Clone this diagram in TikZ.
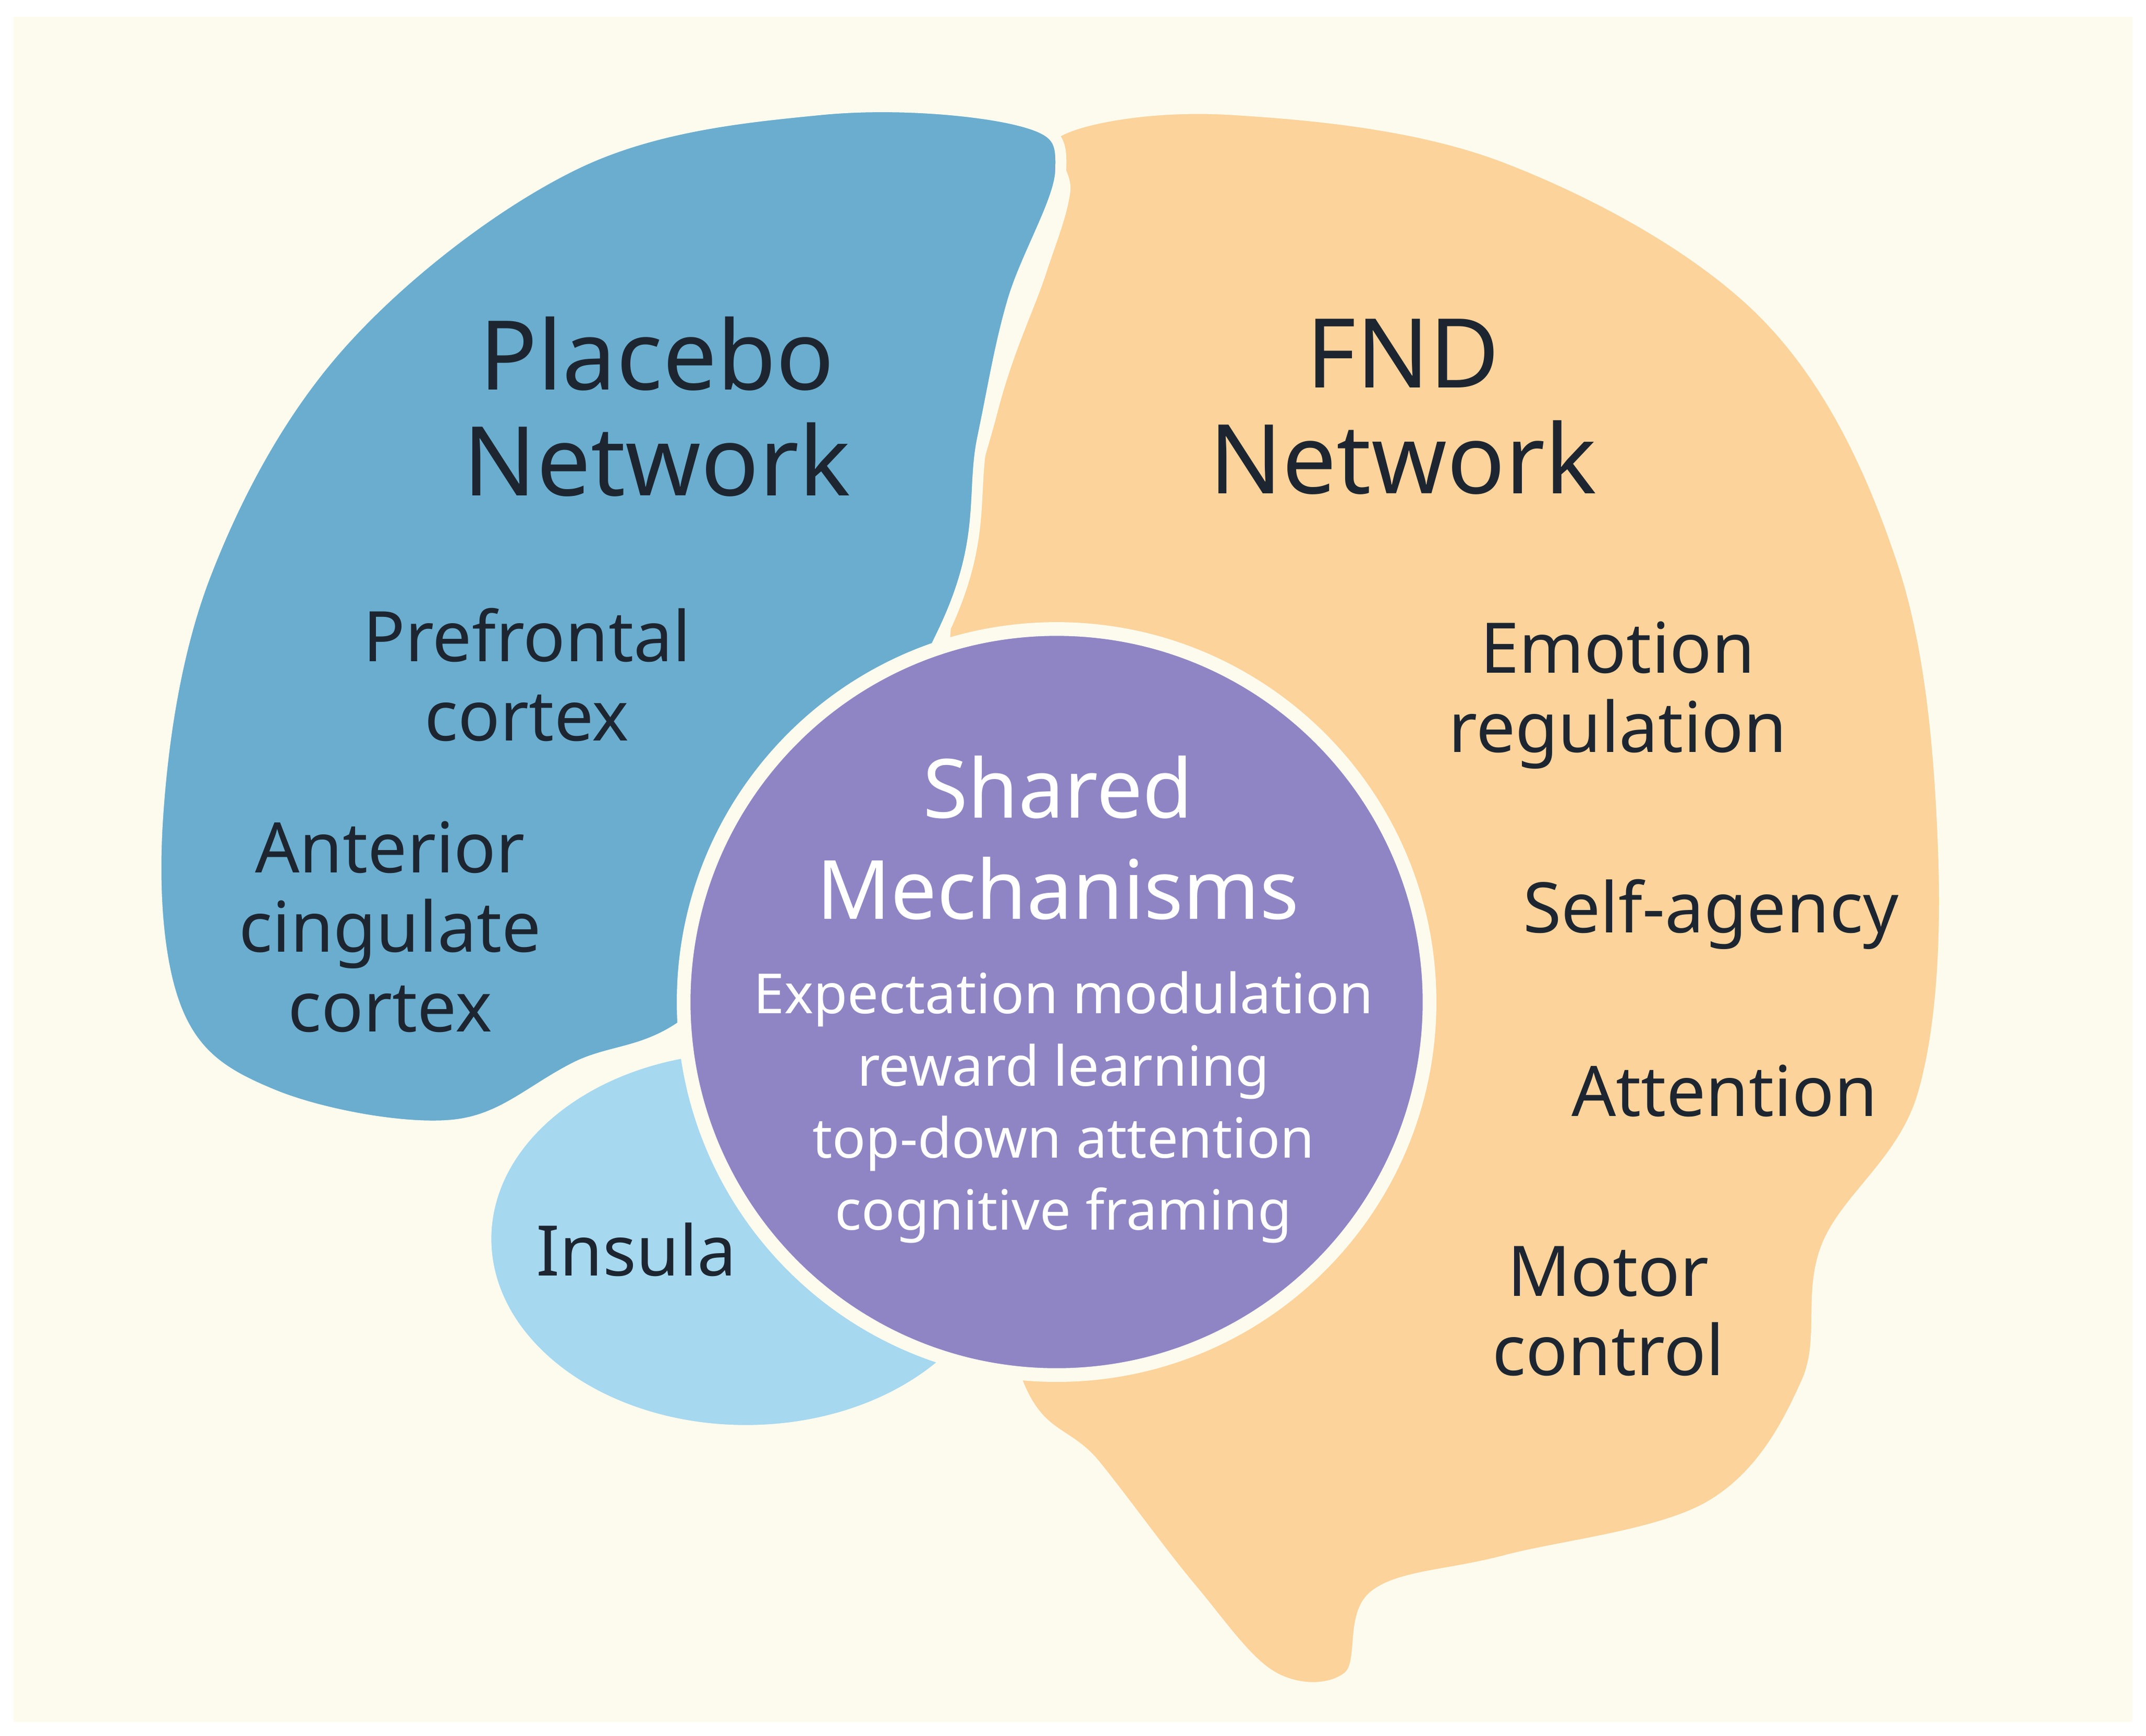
\documentclass[tikz,border=0pt]{standalone}
\usepackage{fontspec}
\setmainfont{Noto Sans}
\definecolor{cream}{HTML}{FDFBEE}
\definecolor{pblue}{HTML}{6AADCF}
\definecolor{lblue}{HTML}{A6D8F0}
\definecolor{orng}{HTML}{FCD39B}
\definecolor{purp}{HTML}{9085C4}
\definecolor{ink}{HTML}{1D2630}
\begin{document}
\begin{tikzpicture}[x=0.1mm,y=-0.1mm,
  region/.style={draw=cream,line width=0.8mm,line join=round},
  title/.style={font=\fontsize{20}{22}\selectfont\bfseries,text=ink,align=center},
  lab/.style={font=\fontsize{14.5}{16.5}\selectfont,text=ink,align=center},
  small/.style={font=\fontsize{11.5}{15}\selectfont,text=white,align=center}]
\useasboundingbox (0,0) rectangle (1568,1268);
\fill[white] (0,0) rectangle (1568,1268);
\fill[cream] (10,12) rectangle (1558,1258);
% orange FND
\path[region,fill=orng] plot[smooth cycle,tension=0.6] coordinates{
 (775,95) (900,80) (1100,115) (1290,230) (1390,410) (1420,620) (1405,800) (1335,910)
 (1320,1010) (1250,1100) (1100,1140) (1005,1165) (985,1225) (930,1225) (870,1160)
 (800,1070) (740,1000) (700,760) (690,470) (725,300) (760,200) (778,140)};
% blue Placebo
\path[region,fill=pblue] plot[smooth cycle,tension=0.6] coordinates{
 (775,125) (745,88) (600,80) (420,120) (250,250) (150,420) (115,600) (130,740) (200,800)
 (330,822) (420,780) (530,720) (690,460) (718,320) (740,220)};
% Insula
\path[region,fill=lblue] (545,905) ellipse[x radius=190,y radius=140];
% Shared circle
\node[circle,draw=cream,line width=1mm,fill=purp,minimum size=54.5mm,inner sep=0] (shared) at (772,732) {};
% texts
\node[title] (pn) at (480,297) {Placebo\\Network};
\node[title] (fn) at (1025,297) {FND\\Network};
\node[lab] (pfc) at (385,493) {Prefrontal\\cortex};
\node[lab] (acc) at (285,677) {Anterior\\cingulate\\cortex};
\node[lab] (ins) at (465,913) {Insula};
\node[font=\fontsize{17}{21}\selectfont\bfseries,text=white,align=center] (sm) at (773,612) {Shared\\Mechanisms};
\node[small] (sl) at (777,809) {Expectation modulation\\reward learning\\top-down attention\\cognitive framing};
\node[lab] (er) at (1182,508) {Emotion\\regulation};
\node[lab] (sa) at (1250,668) {Self-agency};
\node[lab] (at) at (1260,797) {Attention};
\node[lab] (mc) at (1175,958) {Motor\\control};
\end{tikzpicture}
\end{document}
